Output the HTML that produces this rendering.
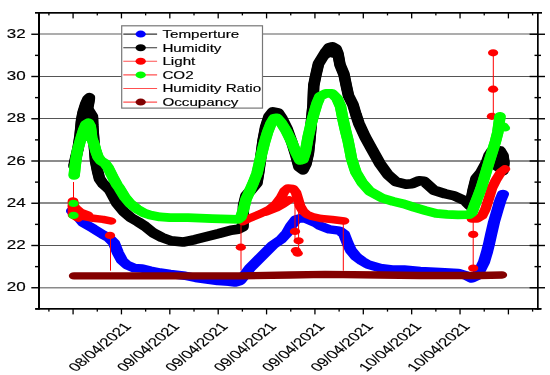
<!DOCTYPE html>
<html><head><meta charset="utf-8"><style>html,body{margin:0;padding:0;background:#fff;overflow:hidden}svg{display:block}</style></head>
<body><svg width="550" height="375" viewBox="0 0 550 375">
<rect width="550" height="375" fill="#fff"/>
<rect x="40" y="33" width="497" height="2" fill="#adadad"/>
<rect x="40" y="76" width="497" height="1" fill="#555"/>
<rect x="40" y="118" width="497" height="1" fill="#555"/>
<rect x="40" y="160" width="497" height="2" fill="#8c8c8c"/>
<rect x="40" y="202" width="497" height="2" fill="#8c8c8c"/>
<rect x="40" y="245" width="497" height="1" fill="#555"/>
<rect x="40" y="287" width="497" height="1.5" fill="#8a8a8a"/>
<g transform="scale(1.42,1)" fill="none" stroke-linecap="round" stroke-linejoin="round">
<polyline points="50.70,211.00 54.23,215.00 58.87,223.00 65.63,228.60 72.46,234.60 76.76,238.00 80.28,243.00 83.10,253.00 85.92,260.50 89.44,265.00 94.37,268.00 100.00,268.50 105.63,270.50 112.68,272.50 119.72,274.00 130.28,275.70 138.03,278.00 145.77,279.50 153.52,281.10 161.27,281.80 165.49,282.50 169.01,281.00 171.83,276.00 176.06,268.00 180.99,261.00 186.62,253.00 192.25,245.00 197.89,239.50 202.11,233.00 204.93,226.00 208.45,219.50 213.38,217.50 217.61,220.00 222.54,223.00 225.35,225.80 232.11,229.40 238.87,230.60 242.25,234.00 244.72,243.00 247.18,250.50 250.70,256.50 254.93,261.00 259.15,264.50 267.61,268.00 276.06,269.50 284.51,269.50 295.77,271.00 309.86,272.00 322.54,273.00 328.17,275.50 332.18,278.50 335.92,276.00 338.73,268.00 340.85,262.00 342.96,252.00 344.37,244.00 345.77,235.00 347.89,222.00 350.35,210.00 352.46,200.00 354.23,194.00" stroke="#0000ff" stroke-width="8.5"/>
<polyline points="52.11,165.00 53.17,158.00 54.93,148.00 56.34,135.00 57.39,120.00 58.45,112.00 60.21,104.00 61.97,98.50 63.03,97.00 62.32,103.00 61.62,108.00 63.38,112.00 65.14,116.00 65.35,125.00 65.85,135.00 66.55,148.00 67.25,160.00 68.66,170.00 70.07,178.00 72.54,183.00 75.35,186.50 77.46,189.50 82.39,202.50 87.32,211.00 92.25,217.00 97.18,221.00 102.11,225.50 107.75,232.00 114.08,236.80 120.42,240.00 128.87,241.30 137.32,238.80 145.77,235.80 154.23,232.80 162.68,229.50 167.61,228.50 171.13,226.00 171.48,205.00 173.24,195.00 177.46,188.00 180.99,182.00 182.39,170.00 183.80,155.00 185.21,140.00 186.97,127.00 189.44,116.00 192.25,111.00 195.77,112.00 198.59,118.00 202.11,128.00 205.63,142.00 208.45,155.00 210.56,166.00 213.38,169.00 215.49,163.00 217.25,152.00 218.31,138.00 219.37,120.00 220.42,104.00 220.92,85.00 222.54,73.70 224.30,63.00 227.11,56.50 229.58,51.00 231.69,47.00 234.15,46.00 236.62,48.00 238.03,53.00 239.44,64.00 242.25,73.70 243.87,85.00 245.42,95.00 248.59,104.00 250.70,114.00 252.82,123.00 257.04,136.00 261.69,148.00 267.61,163.00 273.24,174.00 278.87,181.00 285.92,183.50 290.14,183.00 295.07,180.00 298.59,180.50 302.11,185.00 305.63,189.50 313.38,193.00 319.72,195.00 327.46,200.00 330.99,205.00 333.10,190.00 335.21,178.00 338.73,172.00 342.61,162.00 344.37,155.00 346.48,150.50 349.30,150.00 352.11,150.00 354.23,155.00 354.93,162.00 354.23,170.00" stroke="#000000" stroke-width="8"/>
<polyline points="52.11,166.50 53.17,159.50 54.93,149.50 56.34,136.50 57.39,121.50 58.45,113.50 60.21,105.50 61.97,100.00 63.03,98.50 62.32,104.50 61.62,109.50 63.38,113.50 65.14,117.50 65.35,126.50 65.85,136.50 66.55,149.50 67.25,161.50 68.66,171.50 70.07,179.50 72.54,184.50 75.35,188.00 77.46,191.00 82.39,204.00 87.32,212.50 92.25,218.50 97.18,222.50 102.11,227.00 107.75,233.50 114.08,238.30 120.42,241.50 128.87,242.80 137.32,240.30 145.77,237.30 154.23,234.30 162.68,231.00 167.61,230.00 171.13,227.50 171.48,206.50 173.24,196.50 177.46,189.50 180.99,183.50 182.39,171.50 183.80,156.50 185.21,141.50 186.97,128.50 189.44,117.50 192.25,112.50 195.77,113.50 198.59,119.50 202.11,129.50 205.63,143.50 208.45,156.50 210.56,167.50 213.38,170.50 215.49,164.50 217.25,153.50 218.31,139.50 219.37,121.50 220.42,105.50 220.92,86.50 222.54,75.20 224.30,64.50 227.11,58.00 229.58,52.50 231.69,48.50 234.15,47.50 236.62,49.50 238.03,54.50 239.44,65.50 242.25,75.20 243.87,86.50 245.42,96.50 248.59,105.50 250.70,115.50 252.82,124.50 257.04,137.50 261.69,149.50 267.61,164.50 273.24,175.50 278.87,182.50 285.92,185.00 290.14,184.50 295.07,181.50 298.59,182.00 302.11,186.50 305.63,191.00 313.38,194.50 319.72,196.50 327.46,201.50 330.99,206.50 333.10,191.50 335.21,179.50 338.73,173.50 342.61,163.50 344.37,156.50 346.48,152.00 349.30,151.50 352.11,151.50 354.23,156.50 354.93,163.50 354.23,171.50" stroke="#000000" stroke-width="8"/>
<polyline points="350.00,156.00 352.11,160.00 351.41,168.00 349.30,166.00" stroke="#000000" stroke-width="8"/>
<polyline points="228.87,55.00 232.39,52.50 235.21,54.00" stroke="#000000" stroke-width="8"/>
<polyline points="51.41,202.00 51.41,215.00 54.93,218.00" stroke="#ff0000" stroke-width="7.5"/>
<polyline points="51.41,206.00 56.34,212.00 61.97,215.00" stroke="#ff0000" stroke-width="7.5"/>
<polyline points="51.41,201.00 52.11,206.00 54.23,212.00 57.04,216.00 64.08,218.00 72.54,219.40 78.17,221.00" stroke="#ff0000" stroke-width="7.5"/>
<polyline points="171.13,221.50 175.35,218.50 183.80,213.50 190.14,209.00 194.37,204.00 197.89,197.50 200.35,191.00 202.82,188.00 206.34,188.50 208.45,192.50 209.86,199.00 211.27,206.00 213.38,211.00 216.20,214.50 219.72,216.50 226.06,218.50 233.80,219.50 242.25,221.00" stroke="#ff0000" stroke-width="7.5"/>
<polyline points="187.32,212.00 194.37,208.00 199.30,204.00 203.52,200.00" stroke="#ff0000" stroke-width="7.5"/>
<polyline points="332.39,219.00 335.92,219.00 339.44,216.00 341.90,209.00 344.37,198.00 346.48,188.00 349.30,180.00 352.82,172.00 355.63,169.00" stroke="#ff0000" stroke-width="7.5"/>
</g>
<line x1="73.5" y1="182" x2="73.5" y2="199" stroke="#ff0000" stroke-width="1"/>
<line x1="110.5" y1="235" x2="110.5" y2="270.7" stroke="#ff0000" stroke-width="1"/>
<line x1="241" y1="222" x2="241" y2="270.5" stroke="#ff0000" stroke-width="1"/>
<line x1="295" y1="205" x2="295" y2="240" stroke="#ff0000" stroke-width="1"/>
<line x1="298.6" y1="205" x2="298.6" y2="253" stroke="#ff0000" stroke-width="1"/>
<line x1="343.3" y1="222" x2="343.3" y2="270.7" stroke="#ff0000" stroke-width="1"/>
<line x1="473.2" y1="222" x2="473.2" y2="268" stroke="#ff0000" stroke-width="1"/>
<line x1="493.3" y1="53" x2="493.3" y2="116" stroke="#ff0000" stroke-width="1"/>
<ellipse cx="110.00" cy="235.40" rx="5.11" ry="3.60" fill="#ff0000"/>
<ellipse cx="240.80" cy="247.20" rx="5.11" ry="3.60" fill="#ff0000"/>
<ellipse cx="295.00" cy="231.40" rx="5.11" ry="3.60" fill="#ff0000"/>
<ellipse cx="298.60" cy="240.80" rx="5.11" ry="3.60" fill="#ff0000"/>
<ellipse cx="295.90" cy="250.50" rx="5.11" ry="3.60" fill="#ff0000"/>
<ellipse cx="297.70" cy="253.20" rx="5.11" ry="3.60" fill="#ff0000"/>
<ellipse cx="473.20" cy="234.40" rx="5.11" ry="3.60" fill="#ff0000"/>
<ellipse cx="473.20" cy="268.10" rx="5.11" ry="3.60" fill="#ff0000"/>
<ellipse cx="493.10" cy="52.80" rx="5.11" ry="3.60" fill="#ff0000"/>
<ellipse cx="493.10" cy="89.20" rx="5.11" ry="3.60" fill="#ff0000"/>
<ellipse cx="491.90" cy="116.30" rx="5.11" ry="3.60" fill="#ff0000"/>
<g transform="scale(1.42,1)" fill="none" stroke-linecap="round" stroke-linejoin="round">
<polyline points="52.25,175.00 52.82,167.00 53.52,159.00 54.58,150.00 55.63,145.00 57.04,138.00 58.80,130.00 60.56,124.00 62.25,122.50 63.59,126.00 64.08,131.00 64.65,138.00 66.48,145.00 67.61,151.00 69.01,156.50 71.13,160.50 73.94,163.00 76.06,167.00 78.17,173.00 80.28,179.00 82.39,184.50 84.15,188.00 88.03,197.00 91.55,203.00 96.48,208.50 101.41,212.50 105.63,214.50 112.68,216.50 119.72,217.30 132.39,217.20 149.30,218.20 167.61,219.00 169.72,216.50 171.48,209.00 173.24,199.00 176.06,190.00 178.52,182.00 180.99,173.00 183.10,160.00 184.86,150.00 186.27,142.00 188.38,132.00 190.85,123.00 192.96,118.00 195.07,117.50 197.89,122.00 201.41,130.00 204.93,140.00 208.45,152.00 211.27,160.00 213.38,159.00 215.14,151.00 216.90,137.00 219.01,124.00 221.13,113.00 223.24,103.00 225.35,96.00 229.58,93.00 233.80,93.00 237.32,98.00 239.79,106.00 241.55,119.00 243.31,130.00 245.07,140.00 246.48,150.00 247.54,158.00 249.30,166.00 250.70,172.00 254.93,182.00 260.56,191.00 269.01,197.60 276.76,201.00 284.51,203.60 291.90,207.00 299.65,210.20 307.04,213.00 314.79,214.00 322.54,214.50 330.28,214.30 332.39,212.00 334.15,205.00 336.62,196.00 338.73,188.00 340.49,180.00 342.61,170.00 344.72,160.00 346.83,150.60 348.94,141.00 350.56,132.00 351.41,123.00 352.11,116.00" stroke="#00ff00" stroke-width="8"/>
<polyline points="52.25,175.80 52.82,167.80 53.52,159.80 54.58,150.80 55.63,145.80 57.04,138.80 58.80,130.80 60.56,124.80 62.25,123.30 63.59,126.80 64.08,131.80 64.65,138.80 66.48,145.80 67.61,151.80 69.01,157.30 71.13,161.30 73.94,163.80 76.06,167.80 78.17,173.80 80.28,179.80 82.39,185.30 84.15,188.80 88.03,197.80 91.55,203.80 96.48,209.30 101.41,213.30 105.63,215.30 112.68,217.30 119.72,218.10 132.39,218.00 149.30,219.00 167.61,219.80 169.72,217.30 171.48,209.80 173.24,199.80 176.06,190.80 178.52,182.80 180.99,173.80 183.10,160.80 184.86,150.80 186.27,142.80 188.38,132.80 190.85,123.80 192.96,118.80 195.07,118.30 197.89,122.80 201.41,130.80 204.93,140.80 208.45,152.80 211.27,160.80 213.38,159.80 215.14,151.80 216.90,137.80 219.01,124.80 221.13,113.80 223.24,103.80 225.35,96.80 229.58,93.80 233.80,93.80 237.32,98.80 239.79,106.80 241.55,119.80 243.31,130.80 245.07,140.80 246.48,150.80 247.54,158.80 249.30,166.80 250.70,172.80 254.93,182.80 260.56,191.80 269.01,198.40 276.76,201.80 284.51,204.40 291.90,207.80 299.65,211.00 307.04,213.80 314.79,214.80 322.54,215.30 330.28,215.10 332.39,212.80 334.15,205.80 336.62,196.80 338.73,188.80 340.49,180.80 342.61,170.80 344.72,160.80 346.83,151.40 348.94,141.80 350.56,132.80 351.41,123.80 352.11,116.80" stroke="#00ff00" stroke-width="8"/>
</g>
<ellipse cx="73.50" cy="203.40" rx="5.11" ry="3.60" fill="#00ff00"/>
<ellipse cx="73.50" cy="215.40" rx="5.11" ry="3.60" fill="#00ff00"/>
<ellipse cx="503.50" cy="126.00" rx="5.11" ry="3.60" fill="#00ff00"/>
<ellipse cx="505.00" cy="128.00" rx="5.11" ry="3.60" fill="#00ff00"/>
<g transform="scale(1.42,1)" fill="none" stroke-linecap="round" stroke-linejoin="round">
<polyline points="52.11,275.80 105.63,275.80 169.01,275.90 204.23,275.00 228.87,274.30 267.61,275.00 295.77,275.50 338.03,275.50 353.52,275.00" stroke="#840000" stroke-width="7.3"/>
</g>
<g fill="#000">
<rect x="35" y="12" width="507" height="1.7"/>
<rect x="35.4" y="308" width="506.2" height="1.7"/>
<rect x="38" y="12" width="2" height="297.7"/>
<rect x="537" y="12" width="1.7" height="297.7"/>
<rect x="35" y="308.18" width="3.2" height="1.4"/>
<rect x="534.5" y="308.18" width="6.5" height="1.4"/>
<rect x="31.3" y="287.05" width="7" height="1.4"/>
<rect x="529.6" y="287.05" width="15.4" height="1.4"/>
<rect x="35" y="265.93" width="3.2" height="1.4"/>
<rect x="534.5" y="265.93" width="6.5" height="1.4"/>
<rect x="31.3" y="244.80" width="7" height="1.4"/>
<rect x="529.6" y="244.80" width="15.4" height="1.4"/>
<rect x="35" y="223.68" width="3.2" height="1.4"/>
<rect x="534.5" y="223.68" width="6.5" height="1.4"/>
<rect x="31.3" y="202.55" width="7" height="1.4"/>
<rect x="529.6" y="202.55" width="15.4" height="1.4"/>
<rect x="35" y="181.43" width="3.2" height="1.4"/>
<rect x="534.5" y="181.43" width="6.5" height="1.4"/>
<rect x="31.3" y="160.30" width="7" height="1.4"/>
<rect x="529.6" y="160.30" width="15.4" height="1.4"/>
<rect x="35" y="139.18" width="3.2" height="1.4"/>
<rect x="534.5" y="139.18" width="6.5" height="1.4"/>
<rect x="31.3" y="118.05" width="7" height="1.4"/>
<rect x="529.6" y="118.05" width="15.4" height="1.4"/>
<rect x="35" y="96.92" width="3.2" height="1.4"/>
<rect x="534.5" y="96.92" width="6.5" height="1.4"/>
<rect x="31.3" y="75.80" width="7" height="1.4"/>
<rect x="529.6" y="75.80" width="15.4" height="1.4"/>
<rect x="35" y="54.67" width="3.2" height="1.4"/>
<rect x="534.5" y="54.67" width="6.5" height="1.4"/>
<rect x="31.3" y="33.55" width="7" height="1.4"/>
<rect x="529.6" y="33.55" width="15.4" height="1.4"/>
<rect x="48.25" y="309" width="1.3" height="2.6"/>
<rect x="48.25" y="13" width="1.3" height="2.4"/>
<rect x="72.43" y="309" width="1.3" height="5.4"/>
<rect x="72.43" y="13" width="1.3" height="5.4"/>
<rect x="96.62" y="309" width="1.3" height="2.6"/>
<rect x="96.62" y="13" width="1.3" height="2.4"/>
<rect x="120.80" y="309" width="1.3" height="5.4"/>
<rect x="120.80" y="13" width="1.3" height="5.4"/>
<rect x="144.99" y="309" width="1.3" height="2.6"/>
<rect x="144.99" y="13" width="1.3" height="2.4"/>
<rect x="169.17" y="309" width="1.3" height="5.4"/>
<rect x="169.17" y="13" width="1.3" height="5.4"/>
<rect x="193.36" y="309" width="1.3" height="2.6"/>
<rect x="193.36" y="13" width="1.3" height="2.4"/>
<rect x="217.54" y="309" width="1.3" height="5.4"/>
<rect x="217.54" y="13" width="1.3" height="5.4"/>
<rect x="241.73" y="309" width="1.3" height="2.6"/>
<rect x="241.73" y="13" width="1.3" height="2.4"/>
<rect x="265.92" y="309" width="1.3" height="5.4"/>
<rect x="265.92" y="13" width="1.3" height="5.4"/>
<rect x="290.10" y="309" width="1.3" height="2.6"/>
<rect x="290.10" y="13" width="1.3" height="2.4"/>
<rect x="314.28" y="309" width="1.3" height="5.4"/>
<rect x="314.28" y="13" width="1.3" height="5.4"/>
<rect x="338.47" y="309" width="1.3" height="2.6"/>
<rect x="338.47" y="13" width="1.3" height="2.4"/>
<rect x="362.65" y="309" width="1.3" height="5.4"/>
<rect x="362.65" y="13" width="1.3" height="5.4"/>
<rect x="386.84" y="309" width="1.3" height="2.6"/>
<rect x="386.84" y="13" width="1.3" height="2.4"/>
<rect x="411.02" y="309" width="1.3" height="5.4"/>
<rect x="411.02" y="13" width="1.3" height="5.4"/>
<rect x="435.21" y="309" width="1.3" height="2.6"/>
<rect x="435.21" y="13" width="1.3" height="2.4"/>
<rect x="459.39" y="309" width="1.3" height="5.4"/>
<rect x="459.39" y="13" width="1.3" height="5.4"/>
<rect x="483.58" y="309" width="1.3" height="2.6"/>
<rect x="483.58" y="13" width="1.3" height="2.4"/>
<rect x="507.76" y="309" width="1.3" height="5.4"/>
<rect x="507.76" y="13" width="1.3" height="5.4"/>
<rect x="531.95" y="309" width="1.3" height="2.6"/>
<rect x="531.95" y="13" width="1.3" height="2.4"/>
</g>
<text transform="translate(25.7,291.35) scale(1.42,1)" font-family="'Liberation Sans', Arial, sans-serif" font-size="12" text-anchor="end" fill="#000" stroke="#000" stroke-width="0.15">20</text>
<text transform="translate(25.7,249.10) scale(1.42,1)" font-family="'Liberation Sans', Arial, sans-serif" font-size="12" text-anchor="end" fill="#000" stroke="#000" stroke-width="0.15">22</text>
<text transform="translate(25.7,206.85) scale(1.42,1)" font-family="'Liberation Sans', Arial, sans-serif" font-size="12" text-anchor="end" fill="#000" stroke="#000" stroke-width="0.15">24</text>
<text transform="translate(25.7,164.60) scale(1.42,1)" font-family="'Liberation Sans', Arial, sans-serif" font-size="12" text-anchor="end" fill="#000" stroke="#000" stroke-width="0.15">26</text>
<text transform="translate(25.7,122.35) scale(1.42,1)" font-family="'Liberation Sans', Arial, sans-serif" font-size="12" text-anchor="end" fill="#000" stroke="#000" stroke-width="0.15">28</text>
<text transform="translate(25.7,80.10) scale(1.42,1)" font-family="'Liberation Sans', Arial, sans-serif" font-size="12" text-anchor="end" fill="#000" stroke="#000" stroke-width="0.15">30</text>
<text transform="translate(25.7,37.85) scale(1.42,1)" font-family="'Liberation Sans', Arial, sans-serif" font-size="12" text-anchor="end" fill="#000" stroke="#000" stroke-width="0.15">32</text>
<text transform="translate(131.90,327) scale(1.42,1) rotate(-49)" font-family="'Liberation Sans', Arial, sans-serif" font-size="12" text-anchor="end" fill="#000" stroke="#000" stroke-width="0.12">08/04/2021</text>
<text transform="translate(180.30,327) scale(1.42,1) rotate(-49)" font-family="'Liberation Sans', Arial, sans-serif" font-size="12" text-anchor="end" fill="#000" stroke="#000" stroke-width="0.12">09/04/2021</text>
<text transform="translate(228.70,327) scale(1.42,1) rotate(-49)" font-family="'Liberation Sans', Arial, sans-serif" font-size="12" text-anchor="end" fill="#000" stroke="#000" stroke-width="0.12">09/04/2021</text>
<text transform="translate(277.10,327) scale(1.42,1) rotate(-49)" font-family="'Liberation Sans', Arial, sans-serif" font-size="12" text-anchor="end" fill="#000" stroke="#000" stroke-width="0.12">09/04/2021</text>
<text transform="translate(325.50,327) scale(1.42,1) rotate(-49)" font-family="'Liberation Sans', Arial, sans-serif" font-size="12" text-anchor="end" fill="#000" stroke="#000" stroke-width="0.12">09/04/2021</text>
<text transform="translate(373.90,327) scale(1.42,1) rotate(-49)" font-family="'Liberation Sans', Arial, sans-serif" font-size="12" text-anchor="end" fill="#000" stroke="#000" stroke-width="0.12">09/04/2021</text>
<text transform="translate(422.30,327) scale(1.42,1) rotate(-49)" font-family="'Liberation Sans', Arial, sans-serif" font-size="12" text-anchor="end" fill="#000" stroke="#000" stroke-width="0.12">10/04/2021</text>
<text transform="translate(470.70,327) scale(1.42,1) rotate(-49)" font-family="'Liberation Sans', Arial, sans-serif" font-size="12" text-anchor="end" fill="#000" stroke="#000" stroke-width="0.12">10/04/2021</text>
<rect x="121.7" y="25.8" width="140.8" height="82.3" fill="#fff" stroke="#777" stroke-width="1.2"/>
<line x1="123.3" y1="34.10" x2="157.1" y2="34.10" stroke="#333" stroke-width="1.1"/>
<ellipse cx="140.7" cy="34.10" rx="5.2" ry="3.5" fill="#0000ff"/>
<text transform="translate(162.4,37.90) scale(1.42,1)" font-family="'Liberation Sans', Arial, sans-serif" font-size="10.7" fill="#000" stroke="#000" stroke-width="0.15">Temperture</text>
<line x1="123.3" y1="47.70" x2="157.1" y2="47.70" stroke="#333" stroke-width="1.1"/>
<ellipse cx="140.7" cy="47.70" rx="5.2" ry="3.5" fill="#000000"/>
<text transform="translate(162.4,51.50) scale(1.42,1)" font-family="'Liberation Sans', Arial, sans-serif" font-size="10.7" fill="#000" stroke="#000" stroke-width="0.15">Humidity</text>
<line x1="123.3" y1="61.30" x2="157.1" y2="61.30" stroke="#ff5050" stroke-width="1.1"/>
<ellipse cx="140.7" cy="61.30" rx="5.2" ry="3.5" fill="#ff0000"/>
<text transform="translate(162.4,65.10) scale(1.42,1)" font-family="'Liberation Sans', Arial, sans-serif" font-size="10.7" fill="#000" stroke="#000" stroke-width="0.15">Light</text>
<line x1="123.3" y1="74.90" x2="157.1" y2="74.90" stroke="#ff5050" stroke-width="1.1"/>
<ellipse cx="140.7" cy="74.90" rx="5.2" ry="3.5" fill="#00ff00"/>
<text transform="translate(162.4,78.70) scale(1.42,1)" font-family="'Liberation Sans', Arial, sans-serif" font-size="10.7" fill="#000" stroke="#000" stroke-width="0.15">CO2</text>
<line x1="123.3" y1="88.50" x2="157.1" y2="88.50" stroke="#ff5050" stroke-width="1.1"/>
<text transform="translate(162.4,92.30) scale(1.42,1)" font-family="'Liberation Sans', Arial, sans-serif" font-size="10.7" fill="#000" stroke="#000" stroke-width="0.15">Humidity Ratio</text>
<line x1="123.3" y1="102.10" x2="157.1" y2="102.10" stroke="#ff5050" stroke-width="1.1"/>
<ellipse cx="140.7" cy="102.10" rx="5.2" ry="3.5" fill="#800000"/>
<text transform="translate(162.4,105.90) scale(1.42,1)" font-family="'Liberation Sans', Arial, sans-serif" font-size="10.7" fill="#000" stroke="#000" stroke-width="0.15">Occupancy</text>
</svg></body></html>
